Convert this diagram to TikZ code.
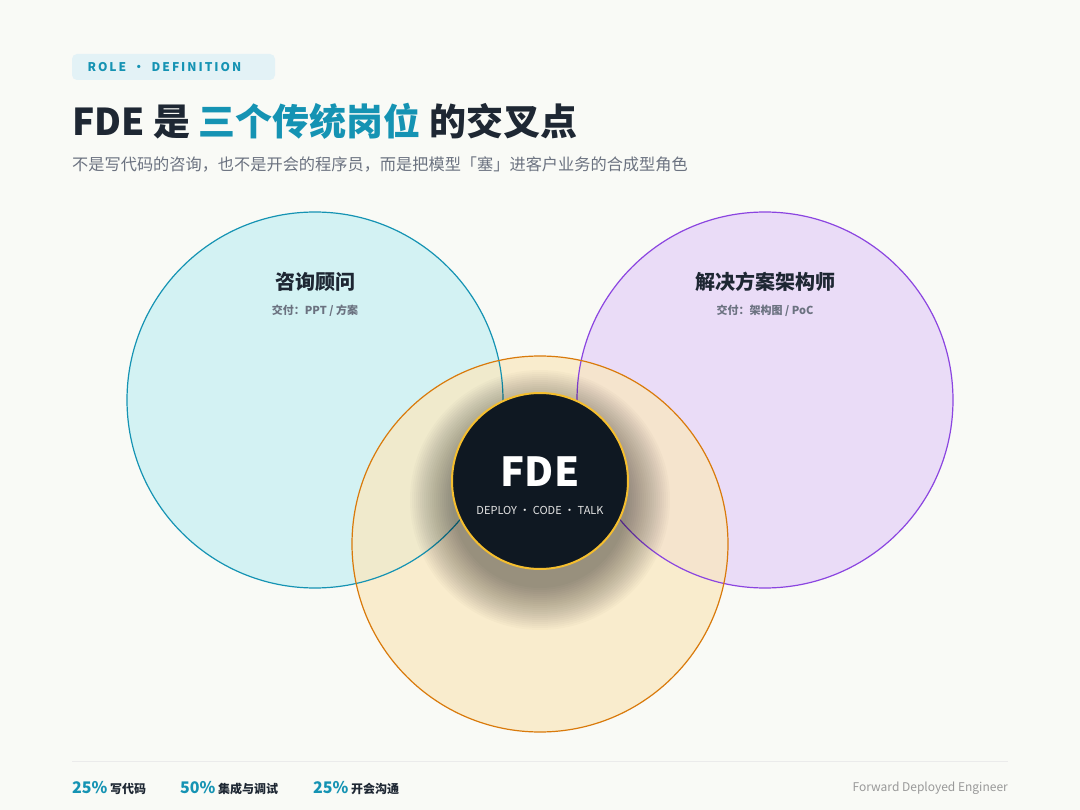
\documentclass[tikz,border=0pt]{standalone}
\usepackage{fontspec}
\setmainfont{Noto Sans CJK SC}
\begin{document}
\begin{tikzpicture}[x=1pt,y=-1pt,
  vt/.style={font=\bfseries\fontsize{20}{24}\selectfont,text=c1},
  sub/.style={font=\bfseries\fontsize{11}{13}\selectfont,text=c2}]
\definecolor{bg}{HTML}{F9FAF6}
\definecolor{c1}{HTML}{1E2733}
\definecolor{c2}{HTML}{6B7280}
\definecolor{teal}{HTML}{1593B3}
\definecolor{dk}{HTML}{0F1822}
\definecolor{lc}{HTML}{D3F2F3}
\definecolor{rc}{HTML}{EADCF7}
\definecolor{bc}{HTML}{FAE8C0}
\definecolor{yb}{HTML}{F5BE2E}
\definecolor{pu}{HTML}{8B45E0}
\definecolor{ob}{HTML}{D97A0B}
\useasboundingbox (0,0) rectangle (1080,810);
\fill[bg] (0,0) rectangle (1080,810);
\fill[fill=teal!12,rounded corners=5] (72,54) rectangle (275,80);
\node[anchor=west,text=teal,font=\bfseries\fontsize{12}{14}\selectfont] (tag) at (84,67) {R\,O\,L\,E\,\, ·\,\, D\,E\,F\,I\,N\,I\,T\,I\,O\,N};
\node[anchor=west,inner sep=0,text=c1,font=\bfseries\fontsize{37}{42}\selectfont] (title) at (72,121) {FDE 是 \textcolor{teal}{三个传统岗位} 的交叉点};
\node[anchor=west,inner sep=0,text=c2,font=\fontsize{16.2}{19}\selectfont] (subt) at (72,164) {不是写代码的咨询，也不是开会的程序员，而是把模型「塞」进客户业务的合成型角色};
% circles
\fill[lc] (315,400) circle (188);
\fill[rc] (765,400) circle (188);
\fill[bc,opacity=0.75] (540,544) circle (188);
\draw[teal,line width=1.2] (315,400) circle (188);
\draw[pu,line width=1.2] (765,400) circle (188);
\draw[ob,line width=1.2] (540,544) circle (188);
\node[vt] (l1) at (315,282) {咨询顾问};
\node[sub] (l2) at (315,311) {交付：PPT / 方案};
\node[vt] (r1) at (765,282) {解决方案架构师};
\node[sub] (r2) at (765,311) {交付：架构图 / PoC};
% shadow
\foreach \r in {88,90,...,130}
  \fill[black,opacity=0.018] (540,500) circle (\r);
\node[circle,minimum size=176,fill=dk,draw=yb,line width=2] (fde) at (540,481) {};
\node[text=white,font=\bfseries\fontsize{40}{44}\selectfont] (fdet) at (540,472) {FDE};
\node[text=white!80!gray,font=\fontsize{11}{13}\selectfont] (fdes) at (540,510) {DEPLOY · CODE · TALK};
% footer
\draw[black!8,line width=1] (72,761) -- (1008,761);
\node[anchor=west,inner sep=0,font=\fontsize{12}{14}\selectfont\bfseries,text=c1] (f1) at (72,788) {\textcolor{teal}{\fontsize{16}{18}\selectfont 25\%} 写代码};
\node[anchor=west,inner sep=0,font=\fontsize{12}{14}\selectfont\bfseries,text=c1] (f2) at (180,788) {\textcolor{teal}{\fontsize{16}{18}\selectfont 50\%} 集成与调试};
\node[anchor=west,inner sep=0,font=\fontsize{12}{14}\selectfont\bfseries,text=c1] (f3) at (313,788) {\textcolor{teal}{\fontsize{16}{18}\selectfont 25\%} 开会沟通};
\node[anchor=east,inner sep=0,font=\fontsize{12}{14}\selectfont,text=black!40] (f4) at (1008,788) {Forward Deployed Engineer};
\end{tikzpicture}
\end{document}
